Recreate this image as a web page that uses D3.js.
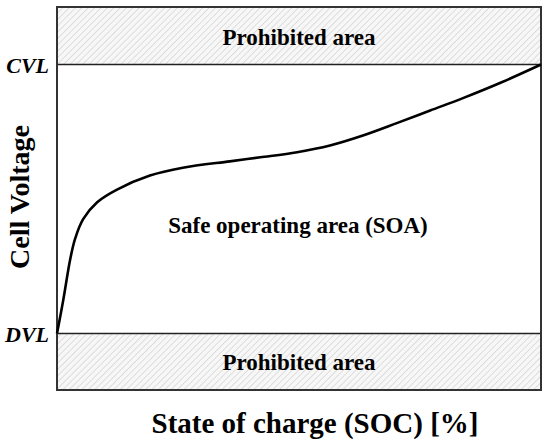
<!DOCTYPE html>
<html>
<head>
<meta charset="utf-8">
<script src="https://cdn.jsdelivr.net/npm/d3@7"></script>
<style>
  body { margin: 0; background: #fff; }
  text { font-family: "Liberation Serif", "Times New Roman", serif; font-weight: bold; fill: #000; }
</style>
</head>
<body>
<svg width="550" height="446"></svg>
<script>
// state of charge in percent
const soc = [0, 1.3, 2.7, 3.7, 5.4, 8.3, 12.4, 19.2, 26.0, 35.7, 42.0, 49.6, 56.4, 63.2, 70.2, 77.1, 84.0, 92.0, 100];
// cell voltage, normalised so DVL = 0 and CVL = 1
const voltage = [0, 0.125, 0.273, 0.350, 0.425, 0.488, 0.535, 0.587, 0.616, 0.640, 0.655, 0.674, 0.699, 0.736, 0.782, 0.829, 0.876, 0.935, 1.0];
// voltage limits
const limitNames = ['DVL', 'CVL'];
const limitValues = [0, 1];
// area labels
const prohibitedLabel = 'Prohibited area';
const safeLabel = 'Safe operating area (SOA)';
const xTitle = 'State of charge (SOC) [%]';
const yTitle = 'Cell Voltage';

const svg = d3.select('svg');

// plot box in pixels
const boxLeft = 57, boxRight = 541, boxTop = 7, boxBottom = 390;

const x = d3.scaleLinear().domain([0, 100]).range([boxLeft, boxRight]);
const y = d3.scaleLinear().domain([0, 1]).range([333.5, 64.5]);
const vMin = y.invert(boxBottom), vMax = y.invert(boxTop);

// hatch pattern for the prohibited areas
const defs = svg.append('defs');
defs.append('pattern')
  .attr('id', 'hatch')
  .attr('patternUnits', 'userSpaceOnUse')
  .attr('width', 4.5)
  .attr('height', 4.5)
  .attr('patternTransform', 'rotate(45)')
  .append('line')
  .attr('x1', 0).attr('y1', 0)
  .attr('x2', 0).attr('y2', 4.5)
  .attr('stroke', '#c4c4c4')
  .attr('stroke-width', 1);

const bands = [
  { lo: limitValues[1], hi: vMax },
  { lo: vMin, hi: limitValues[0] }
];

svg.selectAll('rect.band')
  .data(bands)
  .enter()
  .append('rect')
  .attr('class', 'band')
  .attr('x', x(0))
  .attr('width', x(100) - x(0))
  .attr('y', d => y(d.hi))
  .attr('height', d => y(d.lo) - y(d.hi))
  .attr('fill', '#f7f7f7');

svg.selectAll('rect.hatch')
  .data(bands)
  .enter()
  .append('rect')
  .attr('class', 'hatch')
  .attr('x', x(0))
  .attr('width', x(100) - x(0))
  .attr('y', d => y(d.hi))
  .attr('height', d => y(d.lo) - y(d.hi))
  .attr('fill', 'url(#hatch)');

// limit lines
svg.selectAll('line.limit')
  .data(limitValues)
  .enter()
  .append('line')
  .attr('class', 'limit')
  .attr('x1', x(0))
  .attr('x2', x(100))
  .attr('y1', d => y(d))
  .attr('y2', d => y(d))
  .attr('stroke', '#222')
  .attr('stroke-width', 1.6);

// frame
svg.append('rect')
  .attr('x', boxLeft)
  .attr('y', boxTop)
  .attr('width', boxRight - boxLeft)
  .attr('height', boxBottom - boxTop)
  .attr('fill', 'none')
  .attr('stroke', '#333')
  .attr('stroke-width', 2);

// voltage curve
const points = soc.map((s, i) => [s, voltage[i]]);
const line = d3.line()
  .x(d => x(d[0]))
  .y(d => y(d[1]))
  .curve(d3.curveCatmullRom.alpha(0.5));

svg.append('path')
  .datum(points)
  .attr('d', line)
  .attr('fill', 'none')
  .attr('stroke', '#000')
  .attr('stroke-width', 2.6);

// limit labels
svg.selectAll('text.limit')
  .data(limitValues)
  .enter()
  .append('text')
  .attr('class', 'limit')
  .attr('x', boxLeft - 8)
  .attr('y', d => y(d) + 8.5)
  .attr('text-anchor', 'end')
  .style('font-style', 'italic')
  .style('font-size', '22px')
  .text((d, i) => limitNames[i]);

// area labels
const midX = (boxLeft + boxRight) / 2;
svg.append('text')
  .attr('x', midX)
  .attr('y', 45)
  .attr('text-anchor', 'middle')
  .style('font-size', '23px')
  .text(prohibitedLabel);

svg.append('text')
  .attr('x', midX)
  .attr('y', 370)
  .attr('text-anchor', 'middle')
  .style('font-size', '23px')
  .text(prohibitedLabel);

svg.append('text')
  .attr('x', midX - 1)
  .attr('y', 233)
  .attr('text-anchor', 'middle')
  .style('font-size', '23px')
  .text(safeLabel);

// axis titles
svg.append('text')
  .attr('x', 315)
  .attr('y', 433)
  .attr('text-anchor', 'middle')
  .style('font-size', '29px')
  .text(xTitle);

svg.append('text')
  .attr('transform', 'translate(29,197) rotate(-90)')
  .attr('text-anchor', 'middle')
  .style('font-size', '28px')
  .text(yTitle);
</script>
</body>
</html>
